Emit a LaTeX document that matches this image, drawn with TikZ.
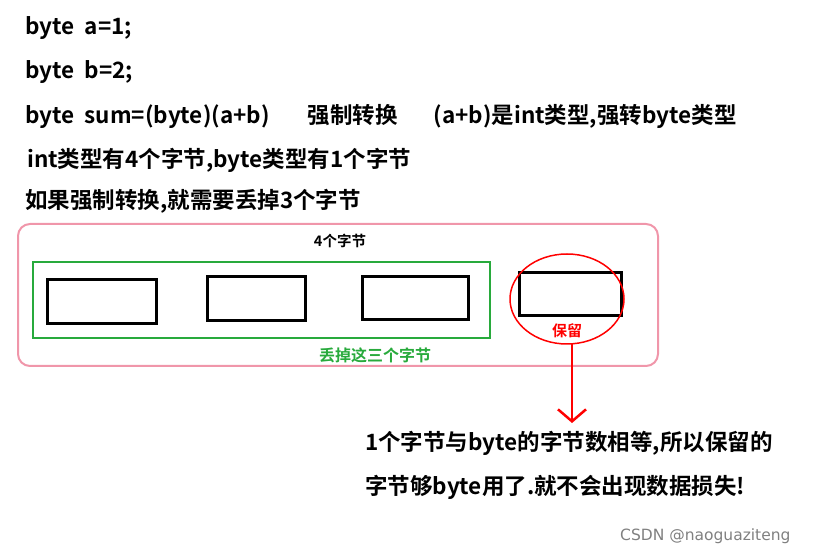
\documentclass[tikz,border=0pt]{standalone}
\usepackage{fontspec}
\newfontfamily\cjk{Noto Sans CJK SC}[BoldFont={Noto Sans CJK SC Bold}]
\usetikzlibrary{arrows.meta}
\begin{document}
\begin{tikzpicture}[x=1pt,y=-1pt,
  txt/.style={anchor=west,font=\cjk\bfseries\fontsize{22.5}{25}\selectfont,inner sep=0},
  box/.style={draw,line width=3pt}]
\useasboundingbox (0,0) rectangle (823,553);
\node[txt] (l1) at (25,28) {byte\ \ a=1;};
\node[txt] (l2) at (25,72) {byte\ \ b=2;};
\node[txt] (l3) at (25,116) {byte\ \ sum=(byte)(a+b)\hspace{38pt}强制转换\hspace{36pt}(a+b)是int类型,强转byte类型};
\node[txt] (l4) at (27,160) {int类型有4个字节,byte类型有1个字节};
\node[txt] (l5) at (25,201) {如果强制转换,就需要丢掉3个字节};
\draw[draw={rgb,255:red,240;green,150;blue,170},line width=2pt,rounded corners=12pt] (18,224) rectangle (658,366);
\node[font=\cjk\bfseries\fontsize{14.5}{16}\selectfont] (four) at (340,241) {4个字节};
\draw[draw={rgb,255:red,40;green,170;blue,60},line width=2pt] (33,262) rectangle (490,338);
\node[box,minimum width=109pt,minimum height=44pt] (b1) at (102,302) {};
\node[box,minimum width=98pt,minimum height=44pt] (b2) at (256,299) {};
\node[box,minimum width=106pt,minimum height=43pt] (b3) at (415,298) {};
\node[box,minimum width=102pt,minimum height=43pt] (b4) at (570,294) {};
\draw[red,line width=1.5pt] (567,299) ellipse (57 and 45);
\node[red,font=\cjk\bfseries\fontsize{15}{17}\selectfont] (keep) at (567,331) {保留};
\node[font=\cjk\bfseries\fontsize{16}{18}\selectfont,text={rgb,255:red,40;green,170;blue,60}] (drop) at (375,355) {丢掉这三个字节};
\coordinate (as) at (572,344);
\coordinate (ae) at (572,423);
\draw[red,line width=2.5pt,-{Straight Barb[length=12pt,width=28pt]}] (as) -- (ae);
\node[txt] (r1) at (365,443) {1个字节与byte的字节数相等,所以保留的};
\node[txt] (r2) at (365,487) {字节够byte用了.就不会出现数据损失!};
\node[anchor=west,inner sep=0,text=gray,font=\fontspec{DejaVu Sans}\fontsize{15.5}{17}\selectfont] (wm) at (620,536) {CSDN @naoguaziteng};
\end{tikzpicture}
\end{document}
